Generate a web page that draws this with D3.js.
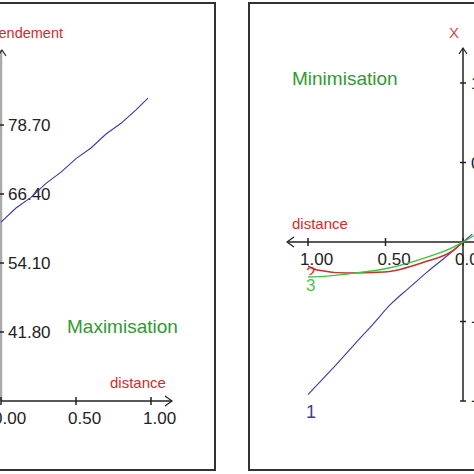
<!DOCTYPE html>
<html>
<head>
<meta charset="utf-8">
<script src="https://cdn.jsdelivr.net/npm/d3@7"></script>
<style>
  body { margin: 0; background: #fff; }
  svg { display: block; }
  text { font-family: "Liberation Sans", Arial, sans-serif; }
  .tick { font-family: "Liberation Sans Narrow", "Liberation Sans", Arial, sans-serif; font-size: 17px; fill: #222; }
</style>
</head>
<body>
<div id="chart"></div>
<script>
// left panel : rendement vs distance (maximisation)
var leftTicksX = [0, 0.5, 1];
var leftTicksY = [41.80, 54.10, 66.40, 78.70];
var leftDist = [0, 0.1, 0.2, 0.3, 0.4, 0.5, 0.6, 0.7, 0.8, 0.9, 0.98];
var leftYield = [61.4, 63.9, 65.8, 68.3, 70.3, 72.7, 74.6, 77.1, 79.0, 81.4, 83.5];

// right panel : X vs distance (minimisation)
var rightTicksX = [0, 0.5, 1];
var rightTicksY = [-1, -0.5, 0.5, 1];
var dist1 = [-0.06, 0, 0.1, 0.232, 0.35, 0.471, 0.58, 0.697, 0.85, 1.0];
var val1 = [0.05, 0, -0.085, -0.189, -0.29, -0.396, -0.516, -0.64, -0.805, -0.96];
var dist2 = [0, 0.058, 0.25, 0.51, 0.748, 0.94, 0.98, 1.0];
var val2 = [0, -0.05, -0.126, -0.189, -0.195, -0.176, -0.16, -0.15];
var dist3 = [-0.07, 0, 0.058, 0.25, 0.51, 0.748, 0.9, 1.0];
var val3 = [0.04, 0, -0.031, -0.101, -0.170, -0.201, -0.216, -0.22];

var W = 474, H = 474;
var svg = d3.select("#chart").append("svg")
  .attr("width", W).attr("height", H);

var fmt = d3.format(".2f");

function chevron(g, x, y, dir) {
  // dir: "right", "left", "up"
  var p;
  if (dir == "right") p = [[x - 7, y - 5], [x, y], [x - 7, y + 5]];
  else if (dir == "left") p = [[x + 7, y - 5], [x, y], [x + 7, y + 5]];
  else p = [[x - 4, y + 6], [x, y], [x + 4, y + 6]];
  g.append("path").attr("d", d3.line()(p))
    .attr("fill", "none").attr("stroke", "#222").attr("stroke-width", 1.2);
}

// ---------- left panel ----------
var gL = svg.append("g");
gL.append("rect").attr("x", -10).attr("y", 3).attr("width", 225).attr("height", 467)
  .attr("fill", "#fff").attr("stroke", "#333").attr("stroke-width", 2);

var xL = d3.scaleLinear().domain([0, 1]).range([1, 151]);
var yL = d3.scaleLinear().domain([29.5, 78.7]).range([401, 125]);

// y axis (greyish at the very edge)
gL.append("line").attr("x1", xL(0)).attr("x2", xL(0)).attr("y1", 50).attr("y2", yL.range()[0])
  .attr("stroke", "#aaa").attr("stroke-width", 2.5);
chevron(gL, xL(0) + 1, 50, "up");
gL.selectAll(".ty").data(leftTicksY).enter().append("line")
  .attr("x1", xL(0) - 3).attr("x2", xL(0) + 3)
  .attr("y1", function (d) { return yL(d); }).attr("y2", function (d) { return yL(d); })
  .attr("stroke", "#222").attr("stroke-width", 1.5);
gL.selectAll(".ly").data(leftTicksY).enter().append("text")
  .attr("class", "tick")
  .attr("x", xL(0) + 7)
  .attr("y", function (d) { return yL(d) + 6; })
  .text(function (d) { return fmt(d); });

// x axis
gL.append("line").attr("x1", xL(0)).attr("x2", 172).attr("y1", yL(29.5)).attr("y2", yL(29.5))
  .attr("stroke", "#222").attr("stroke-width", 1.5);
chevron(gL, 172, yL(29.5), "right");
gL.selectAll(".tx").data(leftTicksX).enter().append("line")
  .attr("x1", function (d) { return xL(d); }).attr("x2", function (d) { return xL(d); })
  .attr("y1", yL(29.5) - 4).attr("y2", yL(29.5) + 4)
  .attr("stroke", "#222").attr("stroke-width", 1.5);
gL.selectAll(".lx").data(leftTicksX).enter().append("text")
  .attr("class", "tick")
  .attr("x", function (d) { return xL(d) - 8; })
  .attr("y", yL(29.5) + 23)
  .text(function (d) { return fmt(d); });

gL.append("path")
  .datum(d3.zip(leftDist, leftYield))
  .attr("d", d3.line().x(function (d) { return xL(d[0]); }).y(function (d) { return yL(d[1]); }))
  .attr("fill", "none").attr("stroke", "#3a3aa8").attr("stroke-width", 1.1);

gL.append("text").attr("x", 63).attr("y", 38).attr("text-anchor", "end")
  .attr("font-size", 14.5).attr("fill", "#d42a2a").text("Rendement");
gL.append("text").attr("x", 67).attr("y", 333)
  .attr("font-size", 19).attr("fill", "#2f9a2f").text("Maximisation");
gL.append("text").attr("x", 110).attr("y", 388)
  .attr("font-size", 15).attr("fill", "#d42a2a").text("distance");

// ---------- right panel ----------
var gR = svg.append("g");
gR.append("rect").attr("x", 249).attr("y", 3).attr("width", 240).attr("height", 467)
  .attr("fill", "#fff").attr("stroke", "#333").attr("stroke-width", 2);

var xR = d3.scaleLinear().domain([0, 1]).range([463, 308]);
var yR = d3.scaleLinear().domain([-1, 1]).range([401, 83]);

// y axis
gR.append("line").attr("x1", xR(0)).attr("x2", xR(0)).attr("y1", 48).attr("y2", yR(-1))
  .attr("stroke", "#222").attr("stroke-width", 1.5);
chevron(gR, xR(0), 48, "up");
gR.selectAll(".ty").data(rightTicksY).enter().append("line")
  .attr("x1", xR(0) - 3).attr("x2", xR(0) + 3)
  .attr("y1", function (d) { return yR(d); }).attr("y2", function (d) { return yR(d); })
  .attr("stroke", "#222").attr("stroke-width", 1.5);
gR.selectAll(".ly").data(rightTicksY).enter().append("text")
  .attr("class", "tick")
  .attr("x", xR(0) + 8)
  .attr("y", function (d) { return yR(d) + 6; })
  .text(function (d) { return fmt(d); });

// x axis
gR.append("line").attr("x1", 287).attr("x2", W + 5).attr("y1", yR(0)).attr("y2", yR(0))
  .attr("stroke", "#222").attr("stroke-width", 1.5);
chevron(gR, 287, yR(0), "left");
gR.selectAll(".tx").data(rightTicksX).enter().append("line")
  .attr("x1", function (d) { return xR(d); }).attr("x2", function (d) { return xR(d); })
  .attr("y1", yR(0) - 4).attr("y2", yR(0) + 4)
  .attr("stroke", "#222").attr("stroke-width", 1.5);
gR.selectAll(".lx").data(rightTicksX).enter().append("text")
  .attr("class", "tick")
  .attr("x", function (d) { return xR(d) - 8; })
  .attr("y", yR(0) + 23)
  .text(function (d) { return fmt(d); });

var lineR = d3.line().curve(d3.curveMonotoneX)
  .x(function (d) { return xR(d[0]); }).y(function (d) { return yR(d[1]); });

// curve labels at distance 1.00
gR.append("text").attr("x", xR(1) - 2).attr("y", yR(val2[val2.length - 1]) + 13)
  .attr("font-size", 17).attr("fill", "#d43a3a").text("2");
gR.append("rect").attr("x", xR(1) - 3).attr("y", yR(val3[val3.length - 1]) - 2)
  .attr("width", 12).attr("height", 16).attr("fill", "#fff");

gR.append("path").datum(d3.zip(dist1, val1)).attr("d", lineR)
  .attr("fill", "none").attr("stroke", "#3a3aa8").attr("stroke-width", 1.1);
gR.append("path").datum(d3.zip(dist2, val2)).attr("d", lineR)
  .attr("fill", "none").attr("stroke", "#c83030").attr("stroke-width", 1.6);
gR.append("path").datum(d3.zip(dist3, val3)).attr("d", lineR)
  .attr("fill", "none").attr("stroke", "#3cc43c").attr("stroke-width", 1.4);

gR.append("text").attr("x", xR(1) - 2).attr("y", yR(val3[val3.length - 1]) + 14)
  .attr("font-size", 17).attr("fill", "#4cc44c").text("3");
gR.append("text").attr("x", xR(1) - 2).attr("y", yR(val1[val1.length - 1]) + 23)
  .attr("font-size", 18).attr("fill", "#3a3aa8").text("1");

gR.append("text").attr("x", 454).attr("y", 38).attr("text-anchor", "middle")
  .attr("font-size", 15).attr("fill", "#d44a4a").text("X");
gR.append("text").attr("x", 292).attr("y", 85)
  .attr("font-size", 19).attr("fill", "#2f9a2f").text("Minimisation");
gR.append("text").attr("x", 292).attr("y", 229)
  .attr("font-size", 15).attr("fill", "#d42a2a").text("distance");
</script>
</body>
</html>
